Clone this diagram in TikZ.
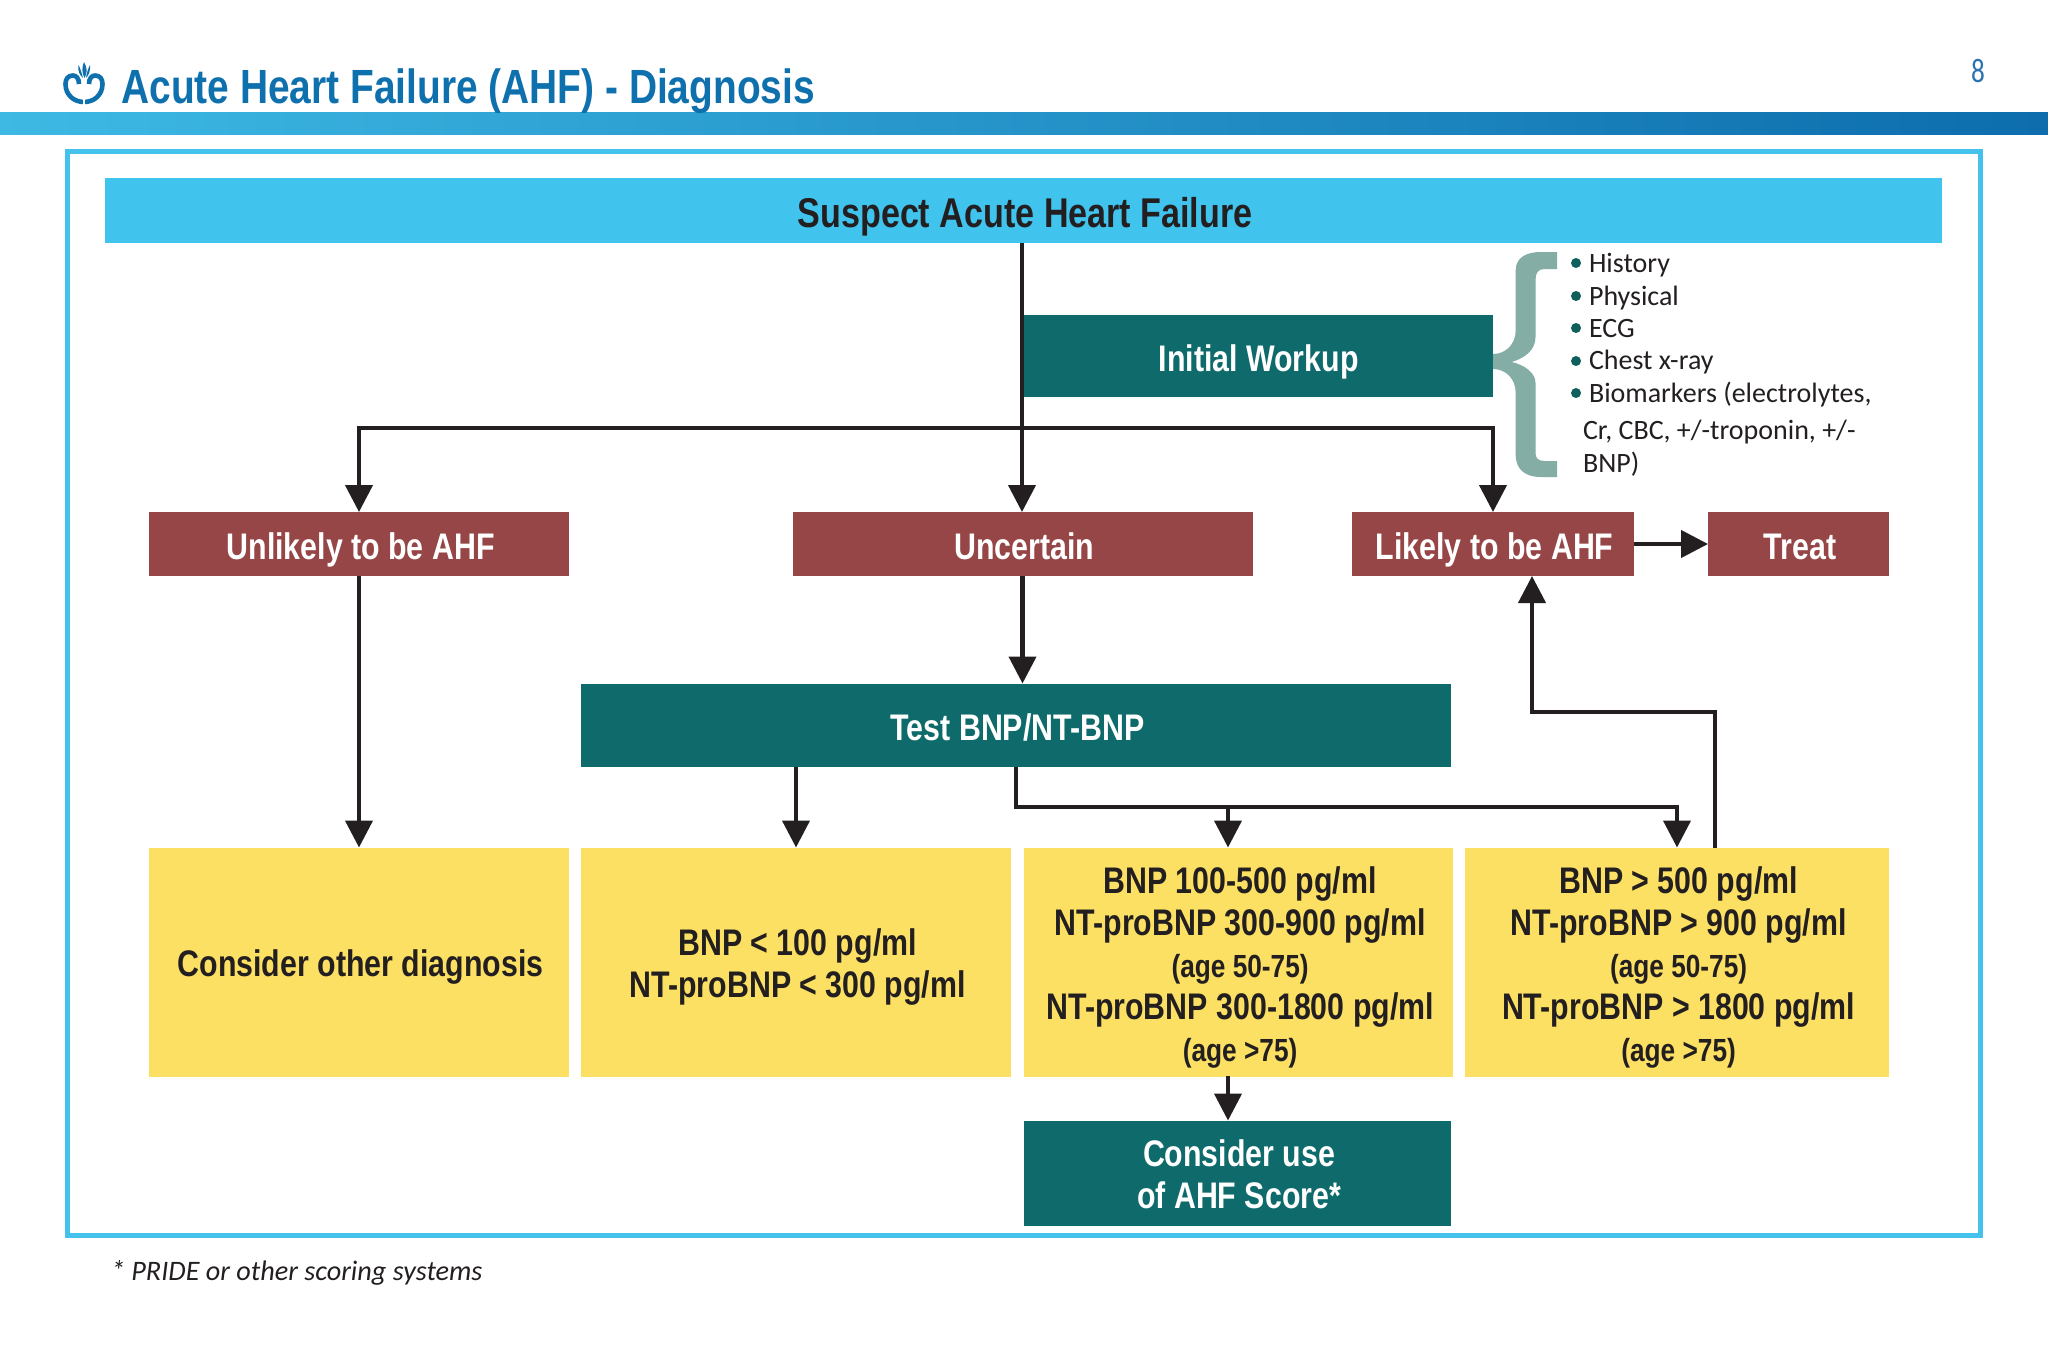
\documentclass[tikz,border=0pt]{standalone}
\usepackage{fontspec}
\usetikzlibrary{arrows.meta,calc}
\setmainfont{Liberation Sans}
\newfontfamily\hf[FakeStretch=0.82]{Liberation Sans}
\newfontfamily\tf[FakeStretch=0.81]{Liberation Sans}
\newfontfamily\cb{Carlito}
\newfontfamily\cbn[FakeStretch=0.8]{Carlito}
\definecolor{ink}{HTML}{231F20}
\definecolor{teal1}{HTML}{0F6A6B}
\definecolor{bulc}{HTML}{0F5F5C}
\definecolor{red1}{HTML}{964646}
\definecolor{yel}{HTML}{FBE064}
\definecolor{sky}{HTML}{40C4EE}
\definecolor{frm}{HTML}{45C2EC}
\definecolor{ttl}{HTML}{0F70AE}
\definecolor{pagec}{HTML}{2A72B2}
\definecolor{brc}{HTML}{84ADA5}
\definecolor{barL}{HTML}{3DB9E4}
\definecolor{barR}{HTML}{0D6DAD}
\tikzset{
 box/.style={inner sep=0pt,outer sep=0pt,align=center,text=white,font=\hf\bfseries\fontsize{18.5}{21}\selectfont},
 oneline/.style={text height=15.2pt,text depth=0pt},
 skybox/.style={box,fill=sky,text=ink,font=\hf\bfseries\fontsize{20.8}{24}\selectfont,text height=16.8pt,text depth=0pt},
 tealbox/.style={box,fill=teal1},
 redbox/.style={box,fill=red1,oneline},
 yelbox/.style={box,fill=yel,text=ink},
 arr/.style={draw=ink,line width=2.1pt,-{Triangle[length=13.5pt,width=13.5pt]}},
 listtxt/.style={inner sep=0pt,outer sep=0pt,anchor=base west,text=ink,font=\cb\fontsize{14}{16}\selectfont},
 bul/.style={fill=bulc},
}
\newcommand{\sml}[1]{{\fontsize{16}{18}\selectfont #1}}
\newcommand{\lift}{\rule{0pt}{18.7pt}}
\newcommand{\ls}{\hspace*{1.6pt}}
\begin{document}
\begin{tikzpicture}[x=0.5pt,y=-0.5pt]
\useasboundingbox (0,0) rectangle (2048,1365);
\fill[white] (0,0) rectangle (2048,1365);
% band
\shade[left color=barL,right color=barR] (0,112) rectangle (2048,134);
% title
\node[inner sep=0pt,anchor=base west,text=ttl,font=\tf\bfseries\fontsize{24}{28}\selectfont] (title) at (121,103) {Acute Heart Failure (AHF) - Diagnosis};
\node[inner sep=0pt,anchor=base,text=pagec,font=\cbn\fontsize{17}{18}\selectfont] (page) at (1978,82.5) {8};
% logo
\draw[ttl,line width=2.3pt] (79,84) .. controls (79,78) and (76,75.5) .. (73,75.5) .. controls (68,75.5) and (65.5,79) .. (65.5,84) .. controls (65.5,95) and (74,102) .. (84,102) .. controls (94,102) and (102.5,95) .. (102.5,84) .. controls (102.5,79) and (100,75.5) .. (95,75.5) .. controls (92,75.5) and (89,78) .. (89,84);
\fill[white] (83.3,96) rectangle (84.7,105);
\fill[ttl] (84,62) .. controls (87.5,68) and (87.5,73) .. (84.5,78) .. controls (82,73) and (81.5,68) .. (84,62) -- cycle;
\fill[ttl] (78.5,65) .. controls (77.5,71) and (79.5,75) .. (83,78) .. controls (81.5,72) and (80.5,69) .. (78.5,65) -- cycle;
\fill[ttl] (90,65) .. controls (90.5,71) and (89,75) .. (86,78) .. controls (87,72) and (88,69) .. (90,65) -- cycle;
% frame
\draw[frm,line width=2.4pt] (67.5,151.5) rectangle (1980.5,1235.5);
% nodes
\node[skybox,minimum width=918.5pt,minimum height=32.5pt] (sus) at (1023.5,210.5) {\ls Suspect Acute Heart Failure};
\fill[brc] (1557,252) -- (1540.5,252) .. controls (1526,252) and (1515.7,258) .. (1515.7,270) -- (1515.7,330) .. controls (1515.7,345) and (1505,354) .. (1493,354) -- (1493,369) .. controls (1505,369) and (1515.7,378) .. (1515.7,393) -- (1515.7,455) .. controls (1515.7,470) and (1526,477) .. (1540.5,477) -- (1557,477) -- (1557,461) -- (1544.6,461) .. controls (1538,461) and (1535.5,458) .. (1535.5,453) -- (1535.5,383) .. controls (1535.5,373) and (1525,365) .. (1511.6,362) .. controls (1525,358) and (1535.5,350) .. (1535.5,337) -- (1535.5,280) .. controls (1535.5,273) and (1538,269) .. (1544.6,269) -- (1557,269) -- cycle;
\node[tealbox,oneline,minimum width=236pt,minimum height=41pt] (ini) at (1257,356) {\ls Initial Workup};
\node[redbox,minimum width=210pt,minimum height=32pt] (unl) at (359,544) {\ls Unlikely to be AHF};
\node[redbox,minimum width=230pt,minimum height=32pt] (unc) at (1022.5,544) {\ls Uncertain};
\node[redbox,minimum width=141pt,minimum height=32pt] (lik) at (1493,544) {\ls Likely to be AHF};
\node[redbox,minimum width=90.5pt,minimum height=32pt] (trt) at (1798.5,544) {\ls Treat};
\node[tealbox,oneline,minimum width=435pt,minimum height=41.5pt] (test) at (1016,725) {\ls Test BNP/NT-BNP};
\node[yelbox,minimum width=210pt,minimum height=114.5pt] (oth) at (359,962) {\lift\ls Consider other diagnosis};
\node[yelbox,minimum width=215pt,minimum height=114.5pt] (low) at (796,962) {\lift\ls BNP < 100 pg/ml\\\ls NT-proBNP < 300 pg/ml};
\node[yelbox,minimum width=214.5pt,minimum height=114.5pt] (mid) at (1238.5,962) {\lift\ls BNP 100-500 pg/ml\\\ls NT-proBNP 300-900 pg/ml\\\ls\sml{(age 50-75)}\\\ls NT-proBNP 300-1800 pg/ml\\\ls\sml{(age >75)}};
\node[yelbox,minimum width=212pt,minimum height=114.5pt] (high) at (1677,962) {\lift\ls BNP > 500 pg/ml\\\ls NT-proBNP > 900 pg/ml\\\ls\sml{(age 50-75)}\\\ls NT-proBNP > 1800 pg/ml\\\ls\sml{(age >75)}};
\node[tealbox,minimum width=213.5pt,minimum height=52.5pt] (cons) at (1237.5,1173) {\rule{0pt}{14.8pt}\ls Consider use\\\ls of AHF Score*};
% list
\foreach \yb in {263,296,328,361,393} \fill[bul] (1576,\yb) circle[radius=5];
\node[listtxt] (l1) at (1589,272) {History};
\node[listtxt] (l2) at (1589,305) {Physical};
\node[listtxt] (l3) at (1589,337) {ECG};
\node[listtxt] (l4) at (1589,369) {Chest x-ray};
\node[listtxt] (l5) at (1589,402) {Biomarkers (electrolytes,};
\node[listtxt] (l6) at (1583,439) {Cr, CBC, +/-troponin, +/-};
\node[listtxt] (l7) at (1583,472) {BNP)};
\node[listtxt,font=\cb\itshape\fontsize{14.1}{16}\selectfont] (foot) at (111,1280) {* PRIDE or other scoring systems};
% coordinates
\coordinate (split) at (1022,428);
\coordinate (bus) at (1016,807);
\coordinate (midin) at (1228,847.5);
\coordinate (midout) at (1228,1076);
\coordinate (fbs) at (1715,847.5);
\coordinate (fbm) at (1532,712);
% connectors
\draw[arr] (sus.south -| split) -- (split |- unc.north);
\draw[arr] (split) -| (unl.north);
\draw[arr] (split) -| (lik.north);
\draw[arr] (unc.south) -- (unc.south |- test.north);
\draw[arr] (unl.south) -- (oth.north);
\draw[arr] (low.north |- test.south) -- (low.north);
\draw[arr] (test.south) -- (bus) -| (high.north);
\draw[arr] (midin |- bus) -- (midin);
\draw[arr] (midout) -- (midout |- cons.north);
\draw[arr] (lik.east) -- (trt.west);
\draw[arr] (fbs) |- (fbm) -- (fbm |- lik.south);
\end{tikzpicture}
\end{document}
